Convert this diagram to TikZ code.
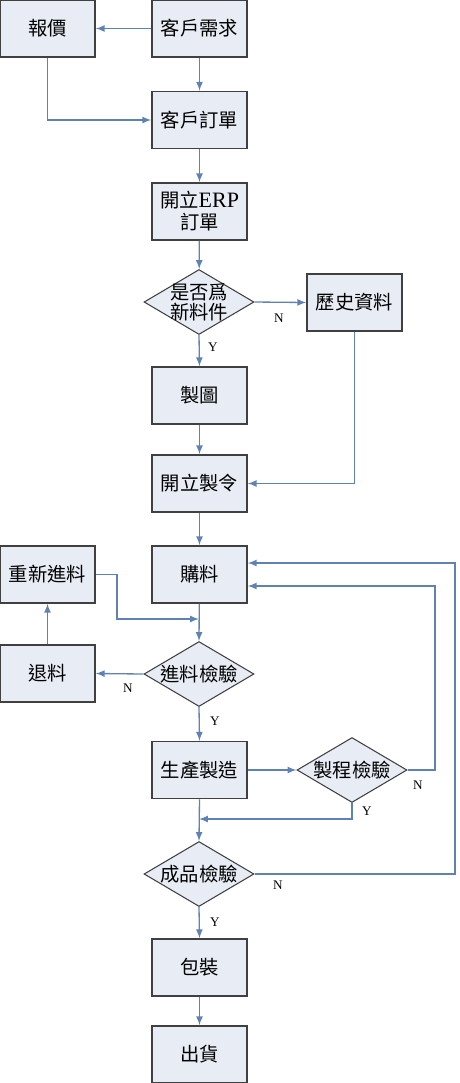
\documentclass[tikz,border=0pt]{standalone}
\usepackage{fontspec}
\setmainfont{Liberation Serif}
\newfontfamily\cjk{Noto Sans CJK TC}
\usetikzlibrary{shapes}
\usetikzlibrary{arrows}
\definecolor{boxfill}{HTML}{E8ECF4}
\definecolor{flowline}{HTML}{5F82B5}

\begin{document}
\begin{tikzpicture}[x=0.02cm,y=-0.02cm]
			\tikzstyle{box}=[rectangle,draw=black!75,fill=boxfill,line width=0.85pt,minimum width=1.9cm,minimum height=1.14cm,inner sep=0pt,align=center,font=\cjk\fontsize{11}{12.5}\selectfont]
			\tikzstyle{check}=[diamond,draw=black!75,fill=boxfill,line width=0.6pt,minimum width=2.2cm,minimum height=1.3cm,aspect=1.69,inner sep=0pt,align=center,font=\cjk\fontsize{11}{11.5}\selectfont]
			\tikzstyle{flow}=[draw=flowline,line width=0.75pt,-latex]
			\tikzstyle{yn}=[font=\fontsize{7.5}{8}\selectfont]
			\useasboundingbox (0,0) rectangle (460,1083);

			% boxes
			\node[box] (quote) at (47.5,28.5) {報價};
			\node[box] (demand) at (199.5,28.5) {客戶需求};
			\node[box] (order) at (199.5,120) {客戶訂單};
			\node[box] (erp) at (199.5,211.5) {開立{\rmfamily\fontsize{12.5}{13}\selectfont ERP}\\訂單};
			\node[check,inner sep=-7pt] (isnew) at (199,302) {是否爲\\新料件};
			\node[box] (history) at (354.5,302.5) {歷史資料};
			\node[box] (drawing) at (199.5,395.5) {製圖};
			\node[box] (workorder) at (199.5,483.5) {開立製令};
			\node[box] (buy) at (199.5,574.5) {購料};
			\node[box] (refeed) at (47.5,574.5) {重新進料};
			\node[box] (back) at (47.5,673.5) {退料};
			\node[check] (incheck) at (199,674) {進料檢驗};
			\node[box] (make) at (199.5,770) {生產製造};
			\node[check] (proccheck) at (352,770) {製程檢驗};
			\node[check] (endcheck) at (199,874) {成品檢驗};
			\node[box] (pack) at (199.5,967.5) {包裝};
			\node[box] (ship) at (199.5,1054.5) {出貨};

			% turning points
			\coordinate (refeedjoin) at (199,619);
			\coordinate (procjoin) at (199,819);
			\coordinate (buyin) at ([yshift=-0.23cm]buy.east);
			\coordinate (buyout) at ([yshift=0.23cm]buy.east);

			% connectors
			\draw[flow] (demand) -- (quote);
			\draw[flow] (demand) -- (order);
			\draw[flow] (quote.south) |- (order.west);
			\draw[flow] (order) -- (erp);
			\draw[flow] (erp) -- (isnew);
			\draw[flow] (isnew.east) -- (history.west);
			\draw[flow] (isnew.south) -- (drawing.north);
			\draw[flow] (drawing) -- (workorder);
			\draw[flow] (history.south) |- (workorder.east);
			\draw[flow] (workorder) -- (buy);
			\draw[flow] (buy) -- (incheck.north);
			\draw[flow] (refeed.east) -| (117,619) -- (refeedjoin);
			\draw[flow] (incheck.west) -- (back.east);
			\draw[flow] (back) -- (refeed);
			\draw[flow] (incheck.south) -- (make.north);
			\draw[flow] (make.east) -- (proccheck.west);
			\draw[flow] (proccheck.east) -| (435,770) |- (buyin);
			\draw[flow] (proccheck.south) |- (procjoin);
			\draw[flow] (make.south) -- (endcheck.north);
			\draw[flow] (endcheck.east) -| (455,874) |- (buyout);
			\draw[flow] (endcheck.south) -- (pack.north);
			\draw[flow] (pack) -- (ship);

			% labels
			\node[yn] (isnewn) at (279,318) {N};
			\node[yn] (isnewy) at (213,347) {Y};
			\node[yn] (incheckn) at (128,688) {N};
			\node[yn] (inchecky) at (215,721) {Y};
			\node[yn] (procn) at (418,785) {N};
			\node[yn] (procy) at (367,811) {Y};
			\node[yn] (endn) at (278,885) {N};
			\node[yn] (endy) at (215,922) {Y};
\end{tikzpicture}
\end{document}
